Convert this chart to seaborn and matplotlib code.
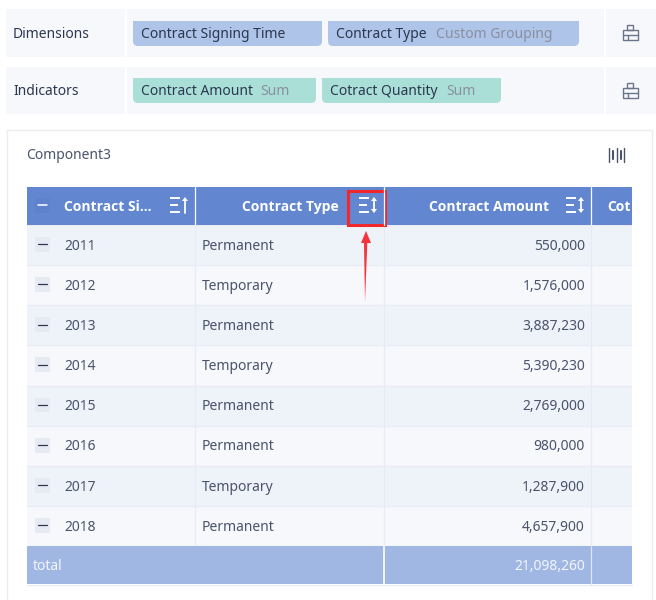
import numpy as np
import matplotlib
matplotlib.use('Agg')
import matplotlib.pyplot as plt
import seaborn as sns
from matplotlib.colors import ListedColormap
from matplotlib.patches import Rectangle, FancyBboxPatch, Polygon

years = ['2011', '2012', '2013', '2014', '2015', '2016', '2017', '2018']
contract_types = ['Permanent', 'Temporary', 'Permanent', 'Temporary',
                  'Permanent', 'Permanent', 'Temporary', 'Permanent']
amounts = [550000, 1576000, 3887230, 5390230, 2769000, 980000, 1287900, 4657900]
total_amount = 21098260
headers = ['Contract Si...', 'Contract Type', 'Contract Amount', 'Cot']

sns.set_theme(style='white')
plt.rcParams['font.family'] = ['Noto Sans', 'DejaVu Sans']

W, H = 656, 600
FS = 10
TEXT = '#4a546b'
DARK = '#2c3850'
GREY = '#8a8f9f'
HEAD = '#6287d0'
TOTAL = '#a0b7e3'
LINE = '#e8ebf5'
PANEL = '#f7f8fc'
BLUE_CHIP = '#aec4e8'
GREEN_CHIP = '#aadfd8'

fig = plt.figure(figsize=(W / 100, H / 100), dpi=100, facecolor='white')

# table body, 8 banded rows
TX0, TX1, TY0, TY1 = 27, 632, 225, 546
ax_tbl = fig.add_axes([TX0 / W, 1 - TY1 / H, (TX1 - TX0) / W, (TY1 - TY0) / H], zorder=1)
bands = np.array([[i % 2] for i in range(len(years))])
sns.heatmap(bands, ax=ax_tbl, cbar=False, cmap=ListedColormap(['#eef2f9', PANEL]),
            linewidths=0, xticklabels=False, yticklabels=False)


def col(px):
    return (px - TX0) / (TX1 - TX0)


for i in range(len(years)):
    y = i + 0.53
    ax_tbl.text(col(64), y, years[i], color=TEXT, fontsize=FS, va='center')
    ax_tbl.text(col(202), y, contract_types[i], color=TEXT, fontsize=FS, va='center')
    ax_tbl.text(col(585), y, f'{amounts[i]:,}', color=TEXT, fontsize=FS, va='center', ha='right')
    ax_tbl.axhline(i, color=LINE, lw=0.9)
    # expand button
    ax_tbl.add_patch(Rectangle((col(35), i + 0.3), col(50) - col(35), 0.37, color='#e6eaf2', lw=0))
    ax_tbl.plot([col(38), col(47)], [i + 0.48, i + 0.48], color=DARK, lw=0.9)
for px in [195, 384, 591]:
    ax_tbl.axvline(col(px), color=LINE, lw=0.9)
ax_tbl.axhline(8, color=LINE, lw=0.9)

# everything else in pixel coordinates
ui = fig.add_axes([0, 0, 1, 1], zorder=2)
ui.set_xlim(0, W)
ui.set_ylim(H, 0)
ui.axis('off')
ui.patch.set_alpha(0)


def rect(x0, y0, x1, y1, c, **kw):
    ui.add_patch(Rectangle((x0, y0), x1 - x0, y1 - y0, facecolor=c, edgecolor='none', **kw))


def chip(x0, y0, x1, y1, c):
    ui.add_patch(FancyBboxPatch((x0, y0), x1 - x0, y1 - y0, boxstyle='round,pad=0,rounding_size=5',
                                facecolor=c, edgecolor='none'))
    rect(x1 - 8, y0, x1, y0 + 8, c)
    rect(x0, y0, x0 + 3, y0 + 3, c)


def hbar_icon(cx, cy, dirs, color='white'):
    for dy, w in [(-7, 10), (0, 8), (7, 10)]:
        ui.plot([cx - 9, cx - 9 + w], [cy + dy, cy + dy], color=color, lw=1.4, solid_capstyle='butt')
    ax_x = cx + 6
    if 'down' in dirs:
        ui.plot([ax_x, ax_x], [cy - 5, cy + 5], color=color, lw=1.3)
        ui.add_patch(Polygon([[ax_x - 3, cy + 4], [ax_x + 3, cy + 4], [ax_x, cy + 8]], color=color, lw=0))
    else:
        ui.plot([ax_x, ax_x], [cy - 5, cy + 8], color=color, lw=1.3)
    ui.add_patch(Polygon([[ax_x - 3, cy - 4], [ax_x + 3, cy - 4], [ax_x, cy - 8]], color=color, lw=0))


def group_icon(cx, cy):
    c = '#6b7488'
    ui.add_patch(Rectangle((cx - 7.5, cy - 3), 15, 10, fill=False, edgecolor=c, lw=1))
    ui.add_patch(Rectangle((cx - 3, cy - 8), 6, 5, fill=False, edgecolor=c, lw=1))
    ui.plot([cx - 7.5, cx + 7.5], [cy + 2, cy + 2], color=c, lw=1)
    ui.plot([cx - 2, cx - 2], [cy + 2, cy + 7], color=c, lw=1)


# Dimensions / Indicators panels
for y0, y1 in [(9, 57), (67, 114)]:
    rect(6, y0, 656, y1, PANEL)
    rect(125, y0, 127, y1, 'white')
    rect(604, y0, 606, y1, 'white')
ui.text(13, 34.5, 'Dimensions', color=DARK, fontsize=FS, va='center')
ui.text(13, 91.5, 'Indicators', color=DARK, fontsize=FS, va='center')
chip(133, 21, 322, 46, BLUE_CHIP)
chip(328, 21, 579, 46, BLUE_CHIP)
chip(133, 78, 316, 103, GREEN_CHIP)
chip(322, 78, 501, 103, GREEN_CHIP)
ui.text(141, 34.5, 'Contract Signing Time', color=DARK, fontsize=FS, va='center')
ui.text(336, 34.5, 'Contract Type', color=DARK, fontsize=FS, va='center')
ui.text(436, 34.5, 'Custom Grouping', color=GREY, fontsize=FS, va='center')
ui.text(141, 91.5, 'Contract Amount', color=DARK, fontsize=FS, va='center')
ui.text(260, 91.5, 'Sum', color=GREY, fontsize=FS, va='center')
ui.text(330, 91.5, 'Cotract Quantity', color=DARK, fontsize=FS, va='center')
ui.text(446, 91.5, 'Sum', color=GREY, fontsize=FS, va='center')
group_icon(630, 33)
group_icon(630, 91)

# Component card
ui.plot([6.5, 6.5, 651.5, 651.5], [H, 129.5, 129.5, H], color='#ebecf0', lw=1)
ui.text(26, 155.5, 'Component3', color=TEXT, fontsize=FS, va='center')
for px, h in [(609, 7), (613, 4), (617, 7), (621, 4), (624, 7)]:
    ui.plot([px, px], [155 - h, 155 + h], color='#4a5368', lw=1.5 if h == 4 else 1)

# header row
rect(TX0, 187, TX1, 225, HEAD)
for px in [195, 384, 591]:
    ui.plot([px, px], [187, 225], color='white', lw=0.9)
rect(35, 198, 50, 213, '#5f83cb')
ui.plot([38, 47], [205, 205], color='white', lw=1.1)
hdr = dict(color='white', fontsize=FS, fontweight='bold', va='center', family=['Open Sans', 'DejaVu Sans'])
ui.text(64, 207, headers[0], **hdr)
ui.text(339, 207, headers[1], ha='right', **hdr)
ui.text(549, 207, headers[2], ha='right', **hdr)
t = ui.text(607, 207, headers[3], **hdr)
t.set_clip_path(Rectangle((TX0, 187), TX1 - TX0, 38, transform=ui.transData))
hbar_icon(179, 205, ['up'])
hbar_icon(368, 205, ['up', 'down'])
hbar_icon(575, 205, ['up', 'down'])

# total row
rect(TX0, 546, TX1, 584, TOTAL)
ui.plot([TX0, TX1], [585, 585], color=LINE, lw=1)
ui.plot([384, 384], [546, 584], color='white', lw=1.2)
ui.plot([591, 591], [546, 584], color='#dfe6f5', lw=0.9)
ui.text(33, 566.5, 'total', color='#f2f5fc', fontsize=FS, va='center')
ui.text(585, 566.5, f'{total_amount:,}', color='#f2f5fc', fontsize=FS, va='center', ha='right')

# red annotation
ui.add_patch(Rectangle((347.5, 190.5), 37, 34, fill=False, edgecolor='#f0272d', lw=2.2))
ui.add_patch(Polygon([[366, 231], [371, 243], [367.3, 243], [365, 302], [364, 243], [361, 243]],
                     color='#f5333a', lw=0))

fig.savefig('out.png', dpi=100)
